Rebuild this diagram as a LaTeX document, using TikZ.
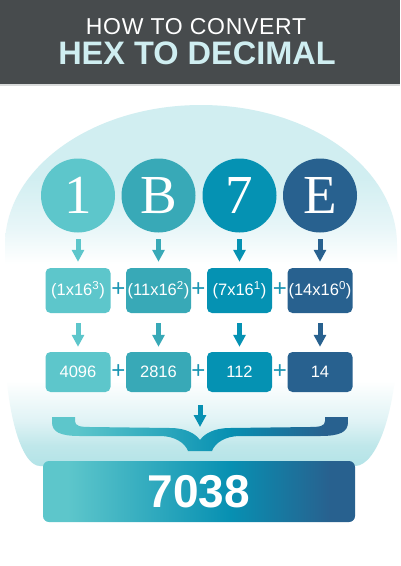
\documentclass[tikz,border=0pt]{standalone}
\usepackage{fontspec}
\setmainfont{Liberation Sans}
\newfontfamily\serifletters{Liberation Serif}
\usetikzlibrary{arrows.meta}
\definecolor{cA}{HTML}{5DC6CB}
\definecolor{cB}{HTML}{38A9B7}
\definecolor{cC}{HTML}{0592B3}
\definecolor{cD}{HTML}{28618F}
\definecolor{hdr}{HTML}{474B4D}
\definecolor{hline}{HTML}{D9DBDB}
\definecolor{ttl}{HTML}{CFEEF1}
\definecolor{plusc}{HTML}{1B95B3}
\definecolor{bgT}{HTML}{D1EEF1}
\definecolor{bgU}{HTML}{E8F6F8}
\definecolor{bgL}{HTML}{E0F3F5}
\definecolor{bgM}{HTML}{BFE7EA}
\definecolor{bgB}{HTML}{B3E3E7}
\definecolor{gMid}{HTML}{0790B2}
\pgfdeclareverticalshading{bgshade}{100bp}{color(0bp)=(bgB); color(25bp)=(bgB); color(27.8bp)=(bgM); color(31.3bp)=(bgL); color(36.8bp)=(white); color(53bp)=(white); color(58bp)=(bgU); color(65bp)=(bgT); color(75bp)=(bgT); color(100bp)=(bgT)}
\pgfdeclarehorizontalshading{gradshade}{100bp}{color(0bp)=(cA); color(29bp)=(cA); color(55bp)=(gMid); color(71bp)=(cD); color(100bp)=(cD)}
\tikzset{
  circ/.style={circle, minimum size=74pt, inner sep=0pt, text=white, font=\serifletters\fontsize{55}{55}\selectfont},
  boxtwo/.style={rectangle, rounded corners=5pt, minimum width=65pt, minimum height=45pt, inner sep=0pt, text=white, font=\fontsize{16.5}{16.5}\selectfont},
  boxthree/.style={rectangle, rounded corners=5pt, minimum width=65pt, minimum height=40pt, inner sep=0pt, text=white, font=\fontsize{16.5}{16.5}\selectfont},
  plus/.style={inner sep=0pt, text=plusc, font=\fontsize{24}{24}\selectfont},
  blk/.style={line width=5pt, -{Triangle[width=12pt,length=12pt]}},
}
\begin{document}
\begin{tikzpicture}[x=1pt,y=-1pt]
\useasboundingbox (0,0) rectangle (400,566);
\fill[white] (0,0) rectangle (400,566);
% header
\fill[hdr] (0,0) rectangle (400,84);
\fill[hline] (0,84) rectangle (400,86);
\node[anchor=base, text=white, inner sep=0pt, font=\addfontfeature{LetterSpace=3}\fontsize{23}{23}\selectfont] (t1) at (196,34.3) {HOW TO CONVERT};
\node[anchor=base, text=ttl, inner sep=0pt, font=\bfseries\fontsize{32.5}{32.5}\selectfont] (t2) at (197,64) {HEX TO DECIMAL};
% background shape
\shade[shading=bgshade] (201,105) .. controls (92.8,105) and (5,167.7) .. (5,245) -- (5,340)
  .. controls (5,409) and (20.7,466) .. (40,466) -- (355,466)
  .. controls (377,466) and (397,409) .. (397,340) -- (397,245)
  .. controls (397,167.7) and (309.2,105) .. (201,105) -- cycle;
% hex digits
\node[circ, fill=cA] (h1) at (78,195.5) {1};
\node[circ, fill=cB] (h2) at (158.5,195.5) {B};
\node[circ, fill=cC] (h3) at (239.5,195.5) {7};
\node[circ, fill=cD] (h4) at (320,195.5) {E};
% powers
\node[boxtwo, fill=cA] (p1) at (78,290.5) {(1x16\textsuperscript{3})};
\node[boxtwo, fill=cB] (p2) at (158.5,290.5) {(11x16\textsuperscript{2})};
\node[boxtwo, fill=cC] (p3) at (239.5,290.5) {(7x16\textsuperscript{1})};
\node[boxtwo, fill=cD] (p4) at (320,290.5) {(14x16\textsuperscript{0})};
% values
\node[boxthree, fill=cA] (v1) at (78,372) {4096};
\node[boxthree, fill=cB] (v2) at (158.5,372) {2816};
\node[boxthree, fill=cC] (v3) at (239.5,372) {112};
\node[boxthree, fill=cD] (v4) at (320,372) {14};
% plus signs
\node[plus] (s1) at (118.5,290) {+};
\node[plus] (s2) at (198.5,290) {+};
\node[plus] (s3) at (280,290) {+};
\node[plus] (s4) at (118.5,372) {+};
\node[plus] (s5) at (198.5,372) {+};
\node[plus] (s6) at (280,372) {+};
% arrows
\draw[blk, cA, shorten <=6.5pt, shorten >=6pt] (h1.south) -- (p1.north);
\draw[blk, cB, shorten <=6.5pt, shorten >=6pt] (h2.south) -- (p2.north);
\draw[blk, cC, shorten <=6.5pt, shorten >=6pt] (h3.south) -- (p3.north);
\draw[blk, cD, shorten <=6.5pt, shorten >=6pt] (h4.south) -- (p4.north);
\draw[blk, cA, shorten <=10pt, shorten >=5pt] (p1.south) -- (v1.north);
\draw[blk, cB, shorten <=10pt, shorten >=5pt] (p2.south) -- (v2.north);
\draw[blk, cC, shorten <=10pt, shorten >=5pt] (p3.south) -- (v3.north);
\draw[blk, cD, shorten <=10pt, shorten >=5pt] (p4.south) -- (v4.north);
% brace
\coordinate (bA) at (200,405);
\coordinate (bB) at (200,427);
\draw[blk, gMid] (bA) -- (bB);
\shade[shading=gradshade] (52,417) -- (75,417) -- (75,421)
  .. controls (75,426) and (80,427) .. (90,427) -- (170,428)
  .. controls (185,428) and (195,433) .. (200,440)
  .. controls (205,433) and (215,428) .. (230,428) -- (310,427)
  .. controls (320,427) and (325,426) .. (325,421) -- (325,417) -- (348,417) -- (348,422)
  .. controls (348,432) and (340,436) .. (320,436) -- (240,436)
  .. controls (225,436) and (215,443) .. (212,451) -- (188,451)
  .. controls (185,443) and (175,436) .. (160,436) -- (80,436)
  .. controls (60,436) and (52,432) .. (52,422) -- cycle;
% result
\node[shade, shading=gradshade, rounded corners=6pt, minimum width=312pt, minimum height=61pt, inner sep=0pt, text=white, font=\bfseries\fontsize{46}{46}\selectfont] (res) at (199,491.5) {7038};
\end{tikzpicture}
\end{document}
